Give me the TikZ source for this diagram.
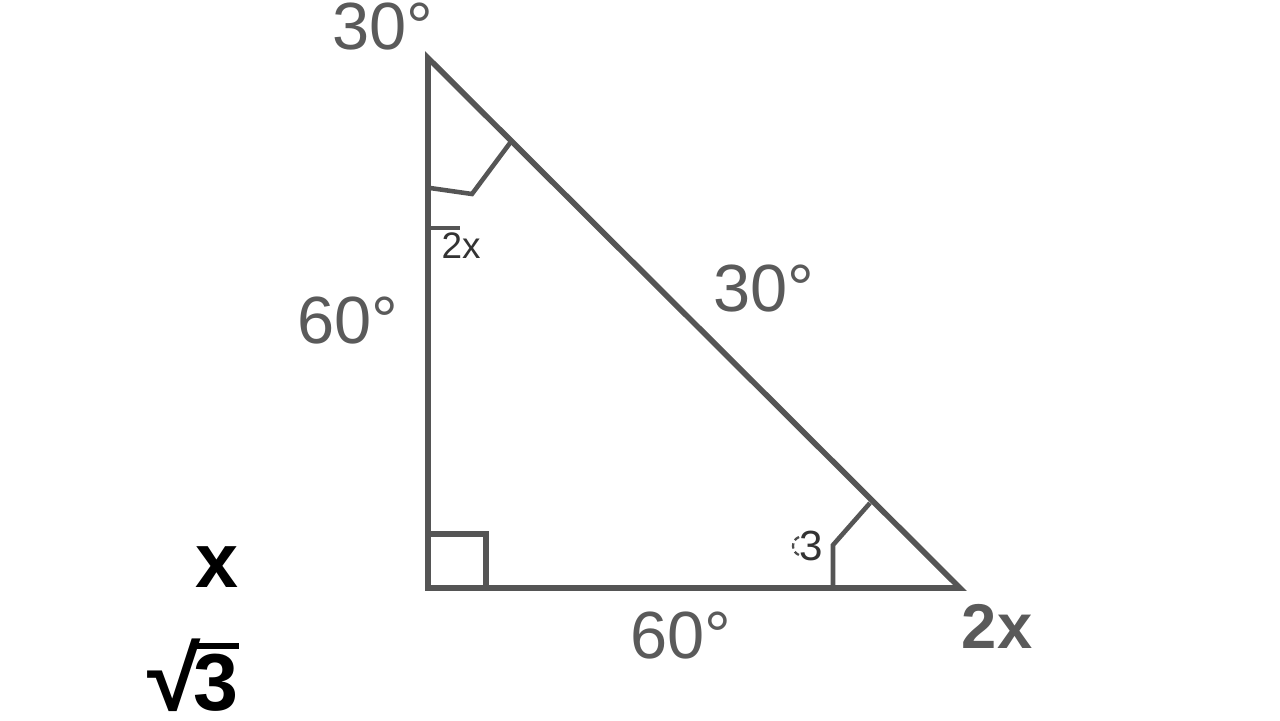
\documentclass[tikz,border=0pt]{standalone}
\usepackage{fontspec}
\setmainfont{Liberation Sans}
\definecolor{edgegray}{HTML}{555555}
\definecolor{labelgray}{HTML}{5A5A5A}
\tikzset{
  edge/.style={draw=edgegray, line width=3.2pt, line join=miter},
  anglemark/.style={draw=edgegray, line width=2.6pt},
  deg/.style={text=labelgray, inner sep=0pt, font=\fontsize{38}{40}\selectfont},
  side/.style={text=black, inner sep=0pt, font=\fontsize{44}{48}\selectfont\bfseries},
}
\begin{document}
\begin{tikzpicture}[x=0.02cm,y=-0.02cm]
\useasboundingbox (0,0) rectangle (1280,720);
% corners of the triangle
\coordinate (top) at (428,58);
\coordinate (rgt) at (428,588);
\coordinate (btm) at (960,588);
\draw [edge] (top) -- (rgt) -- (btm) -- cycle;
% right angle box
\draw [edge] (428,534) -- (486,534) -- (486,588);
% angle marks
\draw [anglemark] (430,188) -- (472,194) -- (510,143);
\draw [anglemark,line width=1.8pt] (430,228) -- (460,228);
\draw [anglemark] (833,588) -- (833,545) -- (870,503);
% angle labels
\node [deg] (atop) at (383,27) {30°};
\node [deg] (aleft) at (348,321) {60°};
\node [deg] (ahyp) at (764,289) {30°};
\node [deg] (abtm) at (681,636) {60°};
\node [text=labelgray, inner sep=0pt, font=\fontsize{36}{40}\selectfont\bfseries] (twox) at (997,626) {2x};
\node [text=black!80, inner sep=0pt, font=\fontsize{21}{24}\selectfont] (smallx) at (461,246) {2x};
\node [text=black!80, inner sep=0pt, font=\fontsize{24}{26}\selectfont] (three) at (811,546) {3};
\draw [black!70, line width=1.3pt, dash pattern=on 3pt off 2pt] (799,537) .. controls (791,540) and (791,552) .. (799,555);
% side ratios
\node [side] (sx) at (217,567) {x};
\node [side, anchor=base, font=\fontsize{46}{48}\selectfont\bfseries] (sroot) at (193,710)
  {\scalebox{1.2}[1.12]{√}\kern-0.08em\vbox{\hrule height 3.4pt\kern 2.5pt\hbox{3}}};
\end{tikzpicture}
\end{document}
